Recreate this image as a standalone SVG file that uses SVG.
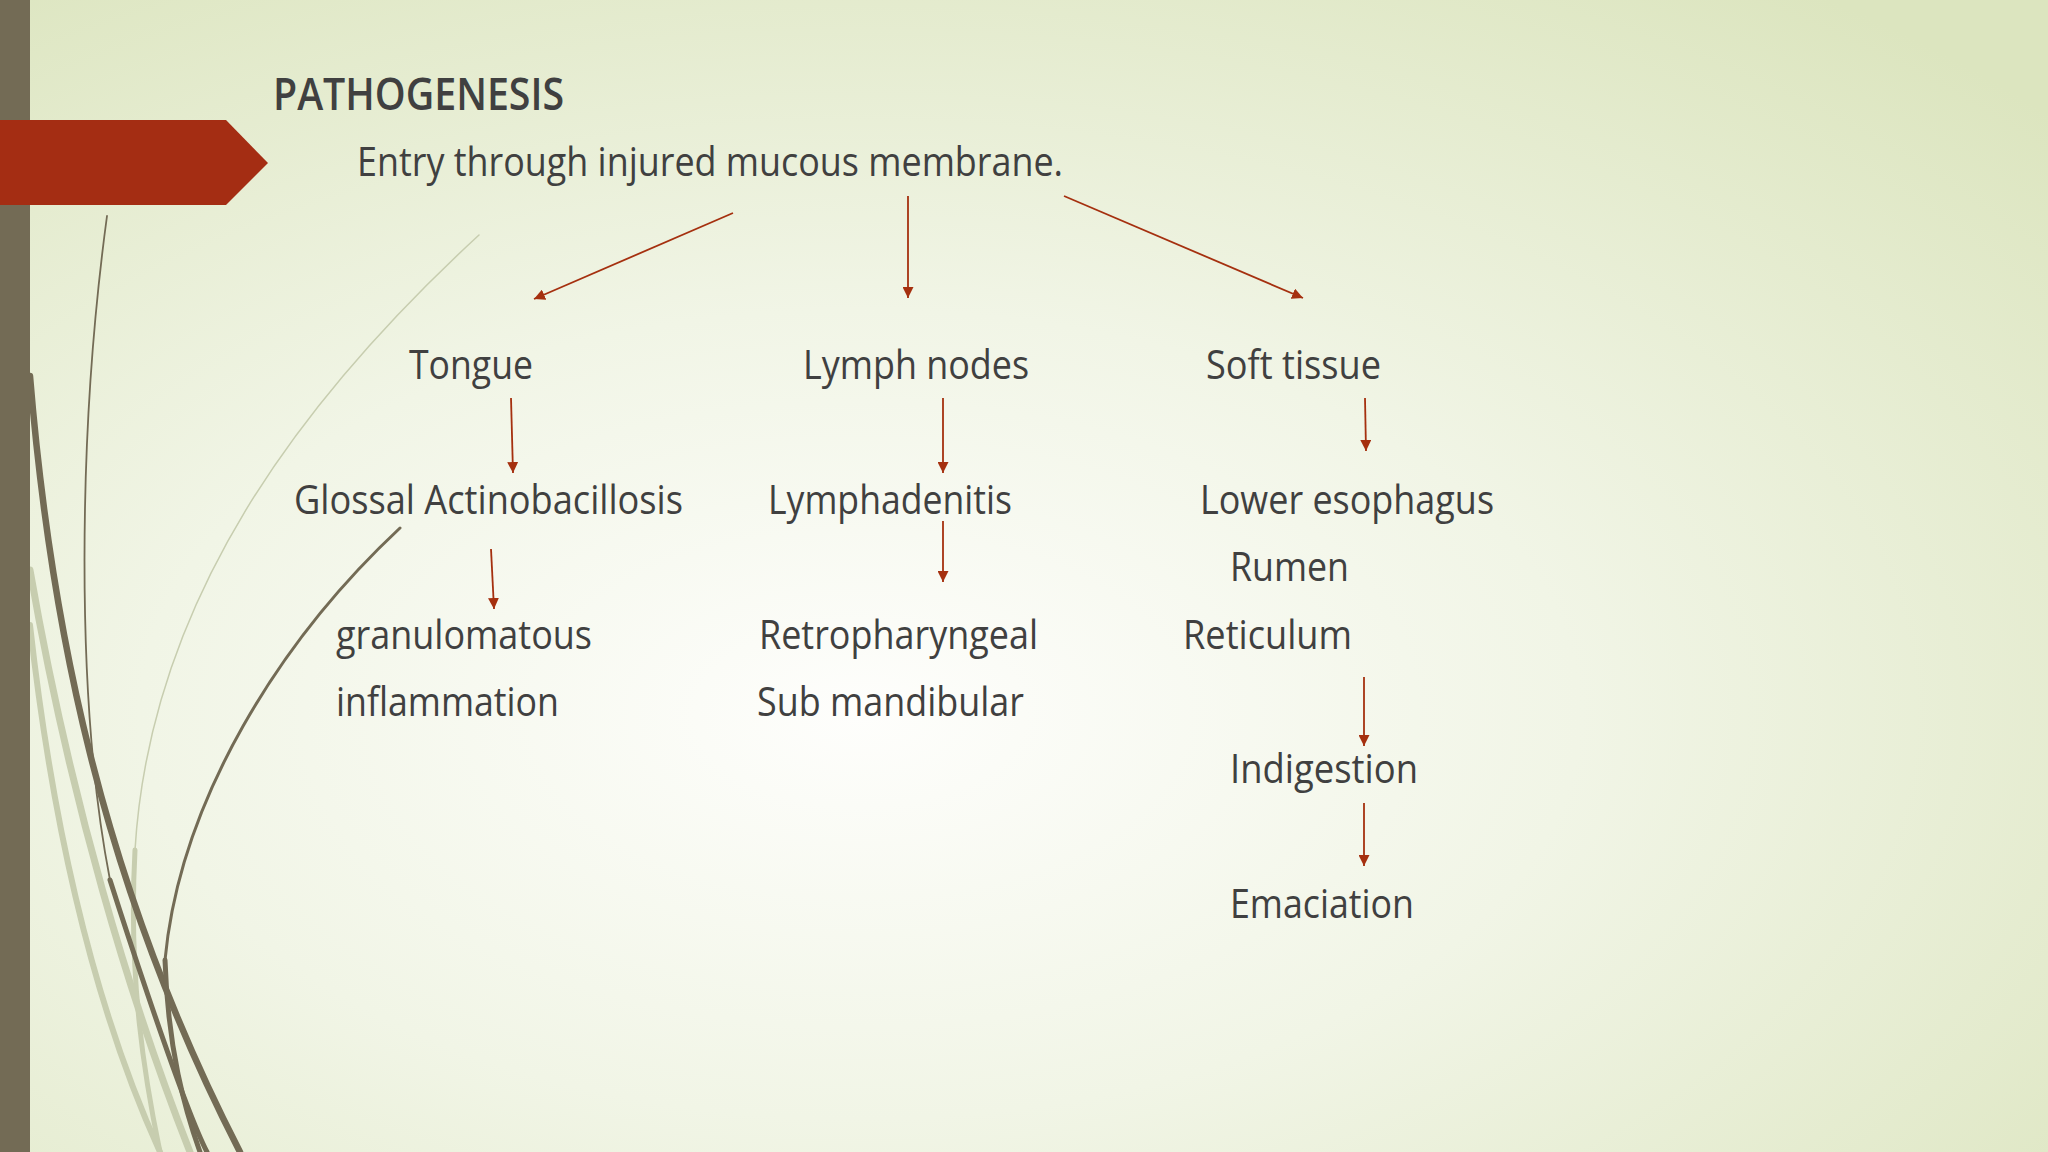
<svg xmlns="http://www.w3.org/2000/svg" width="2048" height="1152" viewBox="0 0 2048 1152">
<defs>
<radialGradient id="bg" cx="0.42" cy="0.62" r="0.78" fx="0.42" fy="0.62">
<stop offset="0" stop-color="#FEFEFC"/>
<stop offset="0.45" stop-color="#F1F5E6"/>
<stop offset="1" stop-color="#DCE5BF"/>
</radialGradient>
<marker id="ah" viewBox="0 0 10 10" refX="10" refY="5" markerWidth="11" markerHeight="11" markerUnits="userSpaceOnUse" orient="auto">
<path d="M0,0 L10,5 L0,10 z" fill="#A5300F"/>
</marker>
<style>
.t{font-family:"Open Sans","Segoe UI","Liberation Sans",sans-serif;font-size:40px;fill:#404040;}
.title{font-family:"Open Sans","Segoe UI","Liberation Sans",sans-serif;font-size:45px;font-weight:600;fill:#404040;}
.c{stroke:#A5300F;stroke-width:1.8;fill:none;marker-end:url(#ah);}
.dk{fill:none;stroke:#736B55;stroke-linecap:round;}
.lt{fill:none;stroke:#C7CDAF;stroke-linecap:round;}
</style>
</defs>
<rect x="0" y="0" width="2048" height="1152" fill="url(#bg)"/>
<g id="decor">
<path class="lt" d="M479,235 C 300,400 150,600 135,850" stroke-width="1.5"/>
<path class="lt" d="M135,850 C 128,980 145,1080 160,1152" stroke-width="5"/>
<path class="lt" d="M30,570 C 70,800 130,1000 190,1152" stroke-width="7"/>
<path class="lt" d="M30,625 C 55,850 100,1020 160,1152" stroke-width="6"/>
<path class="dk" d="M107,216 C 78,430 75,700 110,880" stroke-width="1.8"/>
<path class="dk" d="M110,880 S 180,1100 207,1152" stroke-width="5"/>
<path class="dk" d="M30,376 C 50,620 100,880 240,1152" stroke-width="6.5"/>
<path class="dk" d="M400,528 C 280,640 180,800 165,960" stroke-width="3"/>
<path class="dk" d="M165,960 C 168,1050 185,1110 200,1152" stroke-width="5"/>
<rect x="0" y="0" width="30" height="1152" fill="#736B55"/>
<polygon points="0,120 226,120 268,163 226,205 0,205" fill="#A42D13"/>
</g>
<g id="title"><text class="title" x="273" y="110" textLength="291" lengthAdjust="spacingAndGlyphs">PATHOGENESIS</text></g>
<g id="entry"><text class="t" x="357" y="176" textLength="706" lengthAdjust="spacingAndGlyphs">Entry through injured mucous membrane.</text></g>
<g id="tongue"><text class="t" x="409" y="379" textLength="124" lengthAdjust="spacingAndGlyphs">Tongue</text></g>
<g id="lymph-nodes"><text class="t" x="803" y="379" textLength="226" lengthAdjust="spacingAndGlyphs">Lymph nodes</text></g>
<g id="soft-tissue"><text class="t" x="1206" y="379" textLength="175" lengthAdjust="spacingAndGlyphs">Soft tissue</text></g>
<g id="glossal"><text class="t" x="294" y="514" textLength="389" lengthAdjust="spacingAndGlyphs">Glossal Actinobacillosis</text></g>
<g id="lymphadenitis"><text class="t" x="768" y="514" textLength="244" lengthAdjust="spacingAndGlyphs">Lymphadenitis</text></g>
<g id="lower-esophagus"><text class="t" x="1200" y="514" textLength="294" lengthAdjust="spacingAndGlyphs">Lower esophagus</text></g>
<g id="rumen"><text class="t" x="1230" y="581" textLength="119" lengthAdjust="spacingAndGlyphs">Rumen</text></g>
<g id="granulomatous"><text class="t" x="336" y="649" textLength="256" lengthAdjust="spacingAndGlyphs">granulomatous</text>
<text class="t" x="336" y="716" textLength="223" lengthAdjust="spacingAndGlyphs">inflammation</text></g>
<g id="retropharyngeal"><text class="t" x="759" y="649" textLength="279" lengthAdjust="spacingAndGlyphs">Retropharyngeal</text>
<text class="t" x="757" y="716" textLength="267" lengthAdjust="spacingAndGlyphs">Sub mandibular</text></g>
<g id="reticulum"><text class="t" x="1183" y="649" textLength="169" lengthAdjust="spacingAndGlyphs">Reticulum</text></g>
<g id="indigestion"><text class="t" x="1230" y="783" textLength="188" lengthAdjust="spacingAndGlyphs">Indigestion</text></g>
<g id="emaciation"><text class="t" x="1230" y="918" textLength="184" lengthAdjust="spacingAndGlyphs">Emaciation</text></g>
<g id="connectors">
<line class="c" x1="733" y1="213" x2="534" y2="299"/>
<line class="c" x1="908" y1="196" x2="908" y2="298"/>
<line class="c" x1="1064" y1="196" x2="1303" y2="298"/>
<line class="c" x1="511" y1="398" x2="513" y2="473"/>
<line class="c" x1="943" y1="398" x2="943" y2="473"/>
<line class="c" x1="1365" y1="398" x2="1366" y2="451"/>
<line class="c" x1="491" y1="549" x2="494" y2="609"/>
<line class="c" x1="943" y1="521" x2="943" y2="582"/>
<line class="c" x1="1364" y1="677" x2="1364" y2="746"/>
<line class="c" x1="1364" y1="803" x2="1364" y2="866"/>
</g>
</svg>
